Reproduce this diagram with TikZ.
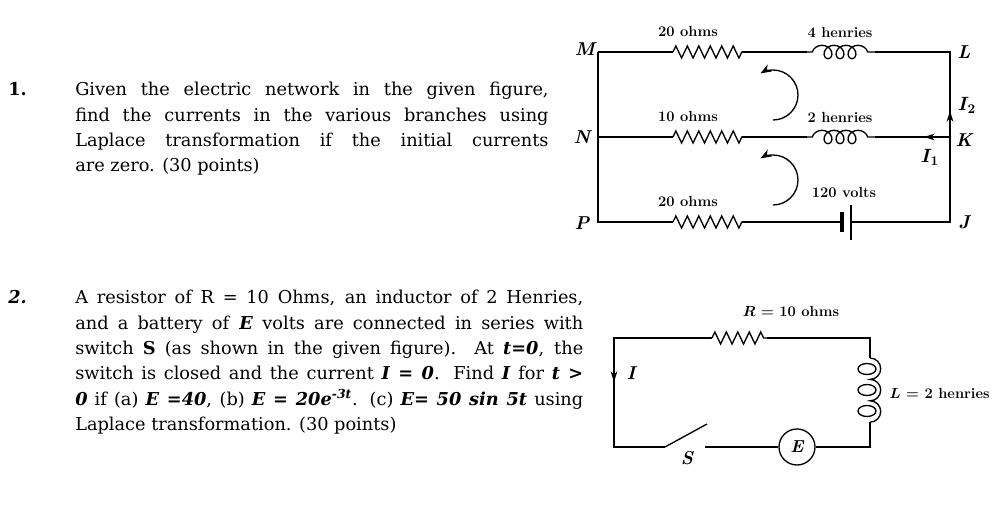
\documentclass[tikz,border=0pt]{standalone}
\usepackage{amsmath}
\usepackage{fontspec}
\newfontfamily\qfont{DejaVu Serif}
\usetikzlibrary{decorations.pathmorphing,arrows.meta}
\begin{document}
\begin{tikzpicture}[x=0.75pt,y=-0.75pt,
  wire/.style={line width=1pt},
  res/.style={wire,decorate,decoration={zigzag,segment length=8.6pt,amplitude=4.5pt}},
  ind/.style={wire,decorate,decoration={coil,aspect=1,segment length=9pt,amplitude=5pt,pre length=4pt,post length=4pt}},
  lab/.style={font=\bfseries\fontsize{11}{13}\selectfont},
  let/.style={font=\bfseries\itshape\fontsize{14}{16}\selectfont},
  qtext/.style={font=\qfont\fontsize{13.3}{19}\selectfont,anchor=north west,align=justify,inner sep=0pt},
  loop/.style={line width=1pt,-{Stealth[length=8pt,width=6pt]}},
  arr/.style={wire,-{Stealth[length=8pt,width=5pt]}}]
\useasboundingbox (0,0) rectangle (1008,520);
% Question texts
\node[qtext,font=\qfont\bfseries\fontsize{13.3}{19}\selectfont] (n1) at (8,82) {1.};
\node[qtext,text width=355pt] (q1) at (75,82) {Given the electric network in the given figure,\linebreak find the currents in the various branches using\linebreak Laplace transformation if the initial currents\linebreak are zero. (30 points)};
\node[qtext,font=\qfont\bfseries\itshape\fontsize{13.3}{19}\selectfont] (n2) at (8,290) {2.};
\node[qtext,text width=381pt] (q2) at (75,290) {A resistor of R = 10 Ohms, an inductor of 2 Henries,\linebreak and a battery of \textbf{\textit{E}} volts are connected in series with\linebreak switch \textbf{S} (as shown in the given figure). At \textbf{\textit{t=0}}, the\linebreak switch is closed and the current \textbf{\textit{I = 0}}. Find \textbf{\textit{I}} for \textbf{\textit{t >}}\linebreak \textbf{\textit{0}} if (a) \textbf{\textit{E =40}}, (b) \textbf{\textit{E = 20e\textsuperscript{-3t}}}. (c) \textbf{\textit{E= 50 sin 5t}} using\linebreak Laplace transformation. (30 points)};
% Circuit 1
\coordinate (M) at (598,52); \coordinate (L) at (950,52);
\coordinate (N) at (598,137); \coordinate (K) at (950,137);
\coordinate (P) at (598,222); \coordinate (J) at (950,222);
\coordinate (r1a) at (673,52); \coordinate (r1b) at (742,52);
\coordinate (l1a) at (807,52); \coordinate (l1b) at (875,52);
\coordinate (r2a) at (673,137); \coordinate (r2b) at (742,137);
\coordinate (l2a) at (807,137); \coordinate (l2b) at (875,137);
\coordinate (r3a) at (673,222); \coordinate (r3b) at (742,222);
\coordinate (b1) at (842,222); \coordinate (b2) at (851,222);
\draw[wire] (M) -- (r1a); \draw[res] (r1a) -- (r1b); \draw[wire] (r1b) -- (l1a);
\draw[ind] (l1a) -- (l1b); \draw[wire] (l1b) -- (L) -- (J) -- (b2);
\draw[wire] (N) -- (r2a); \draw[res] (r2a) -- (r2b); \draw[wire] (r2b) -- (l2a);
\draw[ind] (l2a) -- (l2b); \draw[wire] (l2b) -- (K);
\draw[wire] (M) -- (P) -- (r3a); \draw[res] (r3a) -- (r3b); \draw[wire] (r3b) -- (b1);
\draw[line width=2.6pt] (842,212) -- (842,232);
\draw[wire] (851,205) -- (851,240);
\draw[arr] (K) -- (924,137);
\draw[arr] (K) -- (950,111);
\node[lab] (t1) at (688,32) {20 ohms};
\node[lab] (t2) at (840,32) {4 henries};
\node[lab] (t3) at (688,117) {10 ohms};
\node[lab] (t4) at (840,117) {2 henries};
\node[lab] (t5) at (844,193) {120 volts};
\node[lab] (t6) at (688,202) {20 ohms};
\node[let] (lM) at (585,49) {M}; \node[let] (lL) at (964,52) {L};
\node[let] (lN) at (582,137) {N}; \node[let] (lK) at (964,140) {K};
\node[let] (lP) at (582,223) {P}; \node[let] (lJ) at (964,222) {J};
\node[let] (lI2) at (967,105) {$\boldsymbol{I_2}$};
\node[let] (lI1) at (930,157) {$\boldsymbol{I_1}$};
\draw[loop] (773,120) arc[start angle=90,end angle=-120,radius=25];
\draw[loop] (773,205) arc[start angle=90,end angle=-120,radius=25];
% Circuit 2
\coordinate (A) at (614,338); \coordinate (B) at (870,338);
\coordinate (C) at (870,447); \coordinate (D) at (614,447);
\coordinate (ra) at (712,338); \coordinate (rb) at (767,338);
\coordinate (la) at (870,358); \coordinate (lb) at (870,422);
\coordinate (s1) at (665,447); \coordinate (s2) at (707,424); \coordinate (s3) at (705,447);
\node[circle,draw,line width=1pt,minimum size=27pt,inner sep=0pt,font=\bfseries\itshape\fontsize{13}{15}\selectfont] (E) at (797,447) {E};
\draw[wire] (s1) -- (D) -- (A) -- (ra); \draw[res] (ra) -- (rb); \draw[wire] (rb) -- (B) -- (la);
\draw[wire] (la) arc[start angle=-90,end angle=90,radius=10.7]
  arc[start angle=-90,end angle=90,radius=10.7]
  arc[start angle=-90,end angle=90,radius=10.7];
\foreach \yy in {369,390,411} \draw[wire] (867,\yy) ellipse[x radius=9,y radius=5.5];
\draw[wire] (lb) -- (C) -- (E); \draw[wire] (E) -- (s3);
\draw[wire] (s1) -- (s2);
\draw[arr] (614,362) -- (614,382);
\node[let] (lI) at (631,373) {I};
\node[let] (lS) at (687,458) {S};
\node[lab] (lR) at (791,312) {$\boldsymbol{R}$ = 10 ohms};
\node[lab,anchor=west] (lLL) at (885,393) {$\boldsymbol{L}$ = 2 henries};
\end{tikzpicture}
\end{document}
